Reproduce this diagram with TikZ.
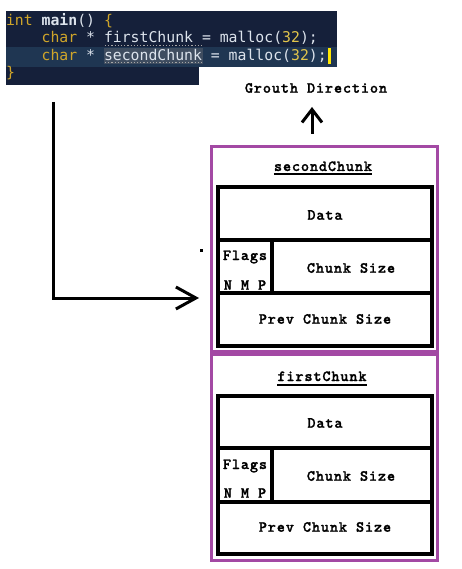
\documentclass[tikz,border=0pt]{standalone}
\usepackage{fontspec}
\newfontfamily\codefont{DejaVu Sans Mono}
\newfontfamily\labelfont[LetterSpace=5.5,FakeBold=1.3]{lmmonolt10-bold.otf}
\usetikzlibrary{arrows.meta}
\definecolor{codebg}{HTML}{15203A}
\definecolor{codehl}{HTML}{1F3652}
\definecolor{codetxt}{HTML}{DCE3EC}
\definecolor{codekw}{HTML}{CFA52A}
\definecolor{codenum}{HTML}{E2C54B}
\definecolor{codesel}{HTML}{3F4D60}
\definecolor{chunkpurple}{HTML}{A349A4}
\begin{document}
\begin{tikzpicture}[x=1pt,y=-1pt,
  codeline/.style={anchor=base west,inner sep=0,outer sep=0,text=codetxt,font=\codefont\fontsize{14.8}{16}\selectfont},
  lbl/.style={inner sep=0,outer sep=0,font=\labelfont\fontsize{15.5}{16}\selectfont},
  outerbox/.style={draw=chunkpurple,line width=3pt,inner sep=0,outer sep=0},
  cell/.style={draw=black,line width=3.5pt,inner sep=0,outer sep=0},
  thickarrow/.style={line width=3pt,black},
]
\useasboundingbox (0,0) rectangle (461,569);
\fill[white] (0,0) rectangle (461,569);

% ---- code panel ----
\fill[codebg] (6,11) rectangle (337,67);
\fill[codebg] (6,67) rectangle (199,85);
\fill[codehl] (6,47) rectangle (337,67);
\fill[codesel] (104,48) rectangle (203,64);
\draw[gray!70,line width=1.2pt,dotted] (105,45.5) -- (204,45.5);
\draw[gray!70,line width=1.2pt,dotted] (105,62.5) -- (204,62.5);
\node[codeline] (l1) at (6,25.5) {\textcolor{codekw}{int} \textbf{main}() \textcolor{codekw}{\{}};
\node[codeline] (l2) at (6,43) {\textcolor{codekw}{\ \ \ \ char} * firstChunk = malloc(\textcolor{codenum}{32});};
\node[codeline] (l3) at (6,60.5) {\textcolor{codekw}{\ \ \ \ char} * secondChunk = malloc(\textcolor{codenum}{32});};
\node[codeline] (l4) at (6,78) {\textcolor{codekw}{\}}};
\fill[yellow!90!orange] (328,48) rectangle (330.5,64);

% ---- L arrow ----
\coordinate (Ltop) at (53,102);
\coordinate (Lend) at (199,298);
\draw[thickarrow,-{Straight Barb[length=20pt,width=22pt]}] (Ltop) |- (Lend);
\fill[black] (200,248.5) rectangle (203,251.5);

% ---- growth direction ----
\node[lbl] (grow) at (316,88) {Grouth Direction};
\coordinate (gbot) at (312,134);
\coordinate (gtop) at (312,107);
\draw[thickarrow,-{Straight Barb[length=13pt,width=20pt]}] (gbot) -- (gtop);

% ---- second chunk ----
\node[outerbox,minimum width=226,minimum height=204] (second) at (324,249) {};
\node[lbl,anchor=base] (t2) at (323,171) {secondChunk};
\draw[line width=2pt] ([yshift=-3.5]t2.base west) -- ([yshift=-3.5]t2.base east);
\node[cell,minimum width=214,minimum height=53] (data2) at (325,213.5) {};
\node[lbl] at (325,215) {Data};
\node[cell,minimum width=54,minimum height=53] (flags2) at (245,266.5) {};
\node[lbl] at (245,257) {Flags};
\node[lbl] at (245,285) {N M P};
\node[cell,minimum width=160,minimum height=53] (size2) at (352,266.5) {};
\node[lbl] at (351,268) {Chunk Size};
\node[cell,minimum width=214,minimum height=53] (prev2) at (325,319.5) {};
\node[lbl] at (325,319) {Prev Chunk Size};

% ---- first chunk ----
\node[outerbox,minimum width=226,minimum height=206] (first) at (324,457) {};
\node[lbl,anchor=base] (t1) at (322,381) {firstChunk};
\draw[line width=2pt] ([yshift=-3.5]t1.base west) -- ([yshift=-3.5]t1.base east);
\node[cell,minimum width=214,minimum height=52] (data1) at (325,422) {};
\node[lbl] at (325,423) {Data};
\node[cell,minimum width=54,minimum height=54] (flags1) at (245,475) {};
\node[lbl] at (245,466) {Flags};
\node[lbl] at (245,493) {N M P};
\node[cell,minimum width=160,minimum height=54] (size1) at (352,475) {};
\node[lbl] at (351,476) {Chunk Size};
\node[cell,minimum width=214,minimum height=52] (prev1) at (325,528) {};
\node[lbl] at (325,527) {Prev Chunk Size};
\end{tikzpicture}
\end{document}
